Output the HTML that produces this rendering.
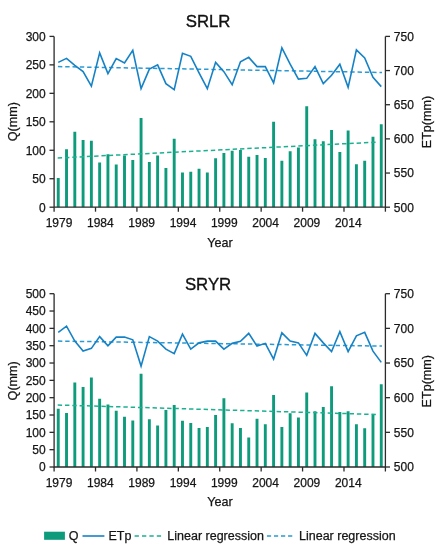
<!DOCTYPE html>
<html><head><meta charset="utf-8"><title>SRLR / SRYR</title>
<style>
html,body{margin:0;padding:0;background:#fff;}
svg{display:block}
.t{font-family:"Liberation Sans",Arial,sans-serif;font-size:12px;fill:#151515;stroke:#151515;stroke-width:0.25px}
.lg{font-size:12.5px}
.at{font-size:12.6px}
.ttl{font-family:"Liberation Sans",Arial,sans-serif;font-size:16.8px;fill:#111;stroke:#111;stroke-width:0.35px}
</style></head><body>
<svg width="443" height="550" viewBox="0 0 443 550">
<rect width="443" height="550" fill="#fff"/>
<rect x="56.79" y="178.00" width="2.9" height="29.20" fill="#0d9b7c"/>
<rect x="65.07" y="149.25" width="2.9" height="57.95" fill="#0d9b7c"/>
<rect x="73.36" y="131.75" width="2.9" height="75.45" fill="#0d9b7c"/>
<rect x="81.64" y="140.00" width="2.9" height="67.20" fill="#0d9b7c"/>
<rect x="89.92" y="140.75" width="2.9" height="66.45" fill="#0d9b7c"/>
<rect x="98.20" y="162.50" width="2.9" height="44.70" fill="#0d9b7c"/>
<rect x="106.49" y="154.25" width="2.9" height="52.95" fill="#0d9b7c"/>
<rect x="114.77" y="164.50" width="2.9" height="42.70" fill="#0d9b7c"/>
<rect x="123.05" y="155.50" width="2.9" height="51.70" fill="#0d9b7c"/>
<rect x="131.33" y="160.00" width="2.9" height="47.20" fill="#0d9b7c"/>
<rect x="139.62" y="118.00" width="2.9" height="89.20" fill="#0d9b7c"/>
<rect x="147.90" y="162.00" width="2.9" height="45.20" fill="#0d9b7c"/>
<rect x="156.18" y="155.50" width="2.9" height="51.70" fill="#0d9b7c"/>
<rect x="164.46" y="168.00" width="2.9" height="39.20" fill="#0d9b7c"/>
<rect x="172.75" y="138.75" width="2.9" height="68.45" fill="#0d9b7c"/>
<rect x="181.03" y="172.50" width="2.9" height="34.70" fill="#0d9b7c"/>
<rect x="189.31" y="171.75" width="2.9" height="35.45" fill="#0d9b7c"/>
<rect x="197.59" y="168.75" width="2.9" height="38.45" fill="#0d9b7c"/>
<rect x="205.88" y="172.50" width="2.9" height="34.70" fill="#0d9b7c"/>
<rect x="214.16" y="158.25" width="2.9" height="48.95" fill="#0d9b7c"/>
<rect x="222.44" y="153.00" width="2.9" height="54.20" fill="#0d9b7c"/>
<rect x="230.72" y="150.75" width="2.9" height="56.45" fill="#0d9b7c"/>
<rect x="239.01" y="150.00" width="2.9" height="57.20" fill="#0d9b7c"/>
<rect x="247.29" y="156.75" width="2.9" height="50.45" fill="#0d9b7c"/>
<rect x="255.57" y="155.00" width="2.9" height="52.20" fill="#0d9b7c"/>
<rect x="263.85" y="158.00" width="2.9" height="49.20" fill="#0d9b7c"/>
<rect x="272.14" y="121.75" width="2.9" height="85.45" fill="#0d9b7c"/>
<rect x="280.42" y="160.75" width="2.9" height="46.45" fill="#0d9b7c"/>
<rect x="288.70" y="151.25" width="2.9" height="55.95" fill="#0d9b7c"/>
<rect x="296.98" y="147.50" width="2.9" height="59.70" fill="#0d9b7c"/>
<rect x="305.27" y="106.25" width="2.9" height="100.95" fill="#0d9b7c"/>
<rect x="313.55" y="139.25" width="2.9" height="67.95" fill="#0d9b7c"/>
<rect x="321.83" y="141.25" width="2.9" height="65.95" fill="#0d9b7c"/>
<rect x="330.11" y="130.00" width="2.9" height="77.20" fill="#0d9b7c"/>
<rect x="338.40" y="152.00" width="2.9" height="55.20" fill="#0d9b7c"/>
<rect x="346.68" y="130.50" width="2.9" height="76.70" fill="#0d9b7c"/>
<rect x="354.96" y="164.25" width="2.9" height="42.95" fill="#0d9b7c"/>
<rect x="363.24" y="160.75" width="2.9" height="46.45" fill="#0d9b7c"/>
<rect x="371.53" y="136.75" width="2.9" height="70.45" fill="#0d9b7c"/>
<rect x="379.81" y="124.25" width="2.9" height="82.95" fill="#0d9b7c"/>
<line x1="57.7" y1="158" x2="376.4" y2="142.15" stroke="#1bb090" stroke-width="1.5" stroke-dasharray="4.4 2.9"/>
<line x1="57.9" y1="66.6" x2="382" y2="72.5" stroke="#2a9ad2" stroke-width="1.5" stroke-dasharray="4.4 2.91"/>
<polyline points="58.24,62.35 66.52,58.35 74.81,65.35 83.09,71.65 91.37,86.15 99.65,52.85 107.94,73.65 116.22,58.65 124.50,62.85 132.78,50.35 141.07,88.65 149.35,69.15 157.63,64.85 165.91,83.65 174.20,89.65 182.48,53.35 190.76,56.35 199.04,72.85 207.33,88.65 215.61,62.35 223.89,71.65 232.17,84.65 240.46,61.85 248.74,57.35 257.02,66.65 265.30,66.65 273.59,82.85 281.87,47.85 290.15,64.15 298.43,79.15 306.72,78.35 315.00,66.65 323.28,83.65 331.56,75.35 339.85,64.15 348.13,87.35 356.41,49.85 364.69,57.85 372.98,77.35 381.26,86.65" fill="none" stroke="#1682c6" stroke-width="1.6" stroke-linejoin="miter" stroke-miterlimit="6"/>
<path d="M54.1 36.4 V207.2 H385.4 V36.4" fill="none" stroke="#2b2b2b" stroke-width="1.3"/>
<line x1="49.5" y1="36.40" x2="54.1" y2="36.40" stroke="#2b2b2b" stroke-width="1.3"/>
<text x="45.7" y="40.80" text-anchor="end" class="t">300</text>
<line x1="49.5" y1="64.87" x2="54.1" y2="64.87" stroke="#2b2b2b" stroke-width="1.3"/>
<text x="45.7" y="69.27" text-anchor="end" class="t">250</text>
<line x1="49.5" y1="93.33" x2="54.1" y2="93.33" stroke="#2b2b2b" stroke-width="1.3"/>
<text x="45.7" y="97.73" text-anchor="end" class="t">200</text>
<line x1="49.5" y1="121.80" x2="54.1" y2="121.80" stroke="#2b2b2b" stroke-width="1.3"/>
<text x="45.7" y="126.20" text-anchor="end" class="t">150</text>
<line x1="49.5" y1="150.27" x2="54.1" y2="150.27" stroke="#2b2b2b" stroke-width="1.3"/>
<text x="45.7" y="154.67" text-anchor="end" class="t">100</text>
<line x1="49.5" y1="178.73" x2="54.1" y2="178.73" stroke="#2b2b2b" stroke-width="1.3"/>
<text x="45.7" y="183.13" text-anchor="end" class="t">50</text>
<line x1="49.5" y1="207.20" x2="54.1" y2="207.20" stroke="#2b2b2b" stroke-width="1.3"/>
<text x="45.7" y="211.60" text-anchor="end" class="t">0</text>
<line x1="385.4" y1="36.40" x2="390" y2="36.40" stroke="#2b2b2b" stroke-width="1.3"/>
<text x="393.8" y="40.80" class="t">750</text>
<line x1="385.4" y1="70.56" x2="390" y2="70.56" stroke="#2b2b2b" stroke-width="1.3"/>
<text x="393.8" y="74.96" class="t">700</text>
<line x1="385.4" y1="104.72" x2="390" y2="104.72" stroke="#2b2b2b" stroke-width="1.3"/>
<text x="393.8" y="109.12" class="t">650</text>
<line x1="385.4" y1="138.88" x2="390" y2="138.88" stroke="#2b2b2b" stroke-width="1.3"/>
<text x="393.8" y="143.28" class="t">600</text>
<line x1="385.4" y1="173.04" x2="390" y2="173.04" stroke="#2b2b2b" stroke-width="1.3"/>
<text x="393.8" y="177.44" class="t">550</text>
<line x1="385.4" y1="207.20" x2="390" y2="207.20" stroke="#2b2b2b" stroke-width="1.3"/>
<text x="393.8" y="211.60" class="t">500</text>
<line x1="54.10" y1="207.2" x2="54.10" y2="211.7" stroke="#2b2b2b" stroke-width="1.3"/>
<text x="59.04" y="227.00" text-anchor="middle" class="t">1979</text>
<line x1="95.51" y1="207.2" x2="95.51" y2="211.7" stroke="#2b2b2b" stroke-width="1.3"/>
<text x="100.35" y="227.00" text-anchor="middle" class="t">1984</text>
<line x1="136.92" y1="207.2" x2="136.92" y2="211.7" stroke="#2b2b2b" stroke-width="1.3"/>
<text x="141.67" y="227.00" text-anchor="middle" class="t">1989</text>
<line x1="178.34" y1="207.2" x2="178.34" y2="211.7" stroke="#2b2b2b" stroke-width="1.3"/>
<text x="182.98" y="227.00" text-anchor="middle" class="t">1994</text>
<line x1="219.75" y1="207.2" x2="219.75" y2="211.7" stroke="#2b2b2b" stroke-width="1.3"/>
<text x="224.29" y="227.00" text-anchor="middle" class="t">1999</text>
<line x1="261.16" y1="207.2" x2="261.16" y2="211.7" stroke="#2b2b2b" stroke-width="1.3"/>
<text x="265.60" y="227.00" text-anchor="middle" class="t">2004</text>
<line x1="302.57" y1="207.2" x2="302.57" y2="211.7" stroke="#2b2b2b" stroke-width="1.3"/>
<text x="306.92" y="227.00" text-anchor="middle" class="t">2009</text>
<line x1="343.99" y1="207.2" x2="343.99" y2="211.7" stroke="#2b2b2b" stroke-width="1.3"/>
<text x="348.23" y="227.00" text-anchor="middle" class="t">2014</text>
<line x1="385.40" y1="207.2" x2="385.40" y2="211.7" stroke="#2b2b2b" stroke-width="1.3"/>
<text x="220.1" y="246.50" text-anchor="middle" class="t at">Year</text>
<text x="208.1" y="27.3" text-anchor="middle" class="ttl">SRLR</text>
<text transform="translate(17.2 121.6) rotate(-90)" text-anchor="middle" class="t at">Q(mm)</text>
<text transform="translate(431 122) rotate(-90)" text-anchor="middle" class="t at">ETp(mm)</text>
<rect x="56.79" y="408.75" width="2.9" height="58.25" fill="#0d9b7c"/>
<rect x="65.07" y="413.00" width="2.9" height="54.00" fill="#0d9b7c"/>
<rect x="73.36" y="382.50" width="2.9" height="84.50" fill="#0d9b7c"/>
<rect x="81.64" y="387.00" width="2.9" height="80.00" fill="#0d9b7c"/>
<rect x="89.92" y="377.50" width="2.9" height="89.50" fill="#0d9b7c"/>
<rect x="98.20" y="398.75" width="2.9" height="68.25" fill="#0d9b7c"/>
<rect x="106.49" y="404.50" width="2.9" height="62.50" fill="#0d9b7c"/>
<rect x="114.77" y="410.75" width="2.9" height="56.25" fill="#0d9b7c"/>
<rect x="123.05" y="416.75" width="2.9" height="50.25" fill="#0d9b7c"/>
<rect x="131.33" y="420.50" width="2.9" height="46.50" fill="#0d9b7c"/>
<rect x="139.62" y="373.75" width="2.9" height="93.25" fill="#0d9b7c"/>
<rect x="147.90" y="419.25" width="2.9" height="47.75" fill="#0d9b7c"/>
<rect x="156.18" y="425.50" width="2.9" height="41.50" fill="#0d9b7c"/>
<rect x="164.46" y="410.00" width="2.9" height="57.00" fill="#0d9b7c"/>
<rect x="172.75" y="405.00" width="2.9" height="62.00" fill="#0d9b7c"/>
<rect x="181.03" y="420.75" width="2.9" height="46.25" fill="#0d9b7c"/>
<rect x="189.31" y="423.00" width="2.9" height="44.00" fill="#0d9b7c"/>
<rect x="197.59" y="428.00" width="2.9" height="39.00" fill="#0d9b7c"/>
<rect x="205.88" y="427.00" width="2.9" height="40.00" fill="#0d9b7c"/>
<rect x="214.16" y="415.00" width="2.9" height="52.00" fill="#0d9b7c"/>
<rect x="222.44" y="398.25" width="2.9" height="68.75" fill="#0d9b7c"/>
<rect x="230.72" y="423.25" width="2.9" height="43.75" fill="#0d9b7c"/>
<rect x="239.01" y="428.00" width="2.9" height="39.00" fill="#0d9b7c"/>
<rect x="247.29" y="437.50" width="2.9" height="29.50" fill="#0d9b7c"/>
<rect x="255.57" y="418.75" width="2.9" height="48.25" fill="#0d9b7c"/>
<rect x="263.85" y="424.25" width="2.9" height="42.75" fill="#0d9b7c"/>
<rect x="272.14" y="395.00" width="2.9" height="72.00" fill="#0d9b7c"/>
<rect x="280.42" y="427.00" width="2.9" height="40.00" fill="#0d9b7c"/>
<rect x="288.70" y="413.25" width="2.9" height="53.75" fill="#0d9b7c"/>
<rect x="296.98" y="417.50" width="2.9" height="49.50" fill="#0d9b7c"/>
<rect x="305.27" y="392.50" width="2.9" height="74.50" fill="#0d9b7c"/>
<rect x="313.55" y="411.25" width="2.9" height="55.75" fill="#0d9b7c"/>
<rect x="321.83" y="407.00" width="2.9" height="60.00" fill="#0d9b7c"/>
<rect x="330.11" y="386.25" width="2.9" height="80.75" fill="#0d9b7c"/>
<rect x="338.40" y="412.00" width="2.9" height="55.00" fill="#0d9b7c"/>
<rect x="346.68" y="411.25" width="2.9" height="55.75" fill="#0d9b7c"/>
<rect x="354.96" y="424.25" width="2.9" height="42.75" fill="#0d9b7c"/>
<rect x="363.24" y="428.25" width="2.9" height="38.75" fill="#0d9b7c"/>
<rect x="371.53" y="414.50" width="2.9" height="52.50" fill="#0d9b7c"/>
<rect x="379.81" y="384.25" width="2.9" height="82.75" fill="#0d9b7c"/>
<line x1="57.7" y1="405" x2="376.4" y2="414.5" stroke="#1bb090" stroke-width="1.5" stroke-dasharray="4.4 2.9"/>
<line x1="57.9" y1="341.1" x2="382" y2="346.1" stroke="#2a9ad2" stroke-width="1.5" stroke-dasharray="4.4 2.91"/>
<polyline points="58.24,332.35 66.52,326.10 74.81,341.10 83.09,351.10 91.37,348.35 99.65,336.60 107.94,345.85 116.22,337.10 124.50,337.10 132.78,339.85 141.07,366.10 149.35,336.60 157.63,341.10 165.91,349.10 174.20,353.60 182.48,334.10 190.76,349.10 199.04,342.85 207.33,341.10 215.61,341.10 223.89,349.10 232.17,343.35 240.46,341.35 248.74,333.35 257.02,346.10 265.30,343.35 273.59,359.10 281.87,332.85 290.15,341.10 298.43,342.85 306.72,355.35 315.00,333.35 323.28,342.85 331.56,351.60 339.85,331.60 348.13,351.60 356.41,335.85 364.69,332.35 372.98,351.10 381.26,362.35" fill="none" stroke="#1682c6" stroke-width="1.6" stroke-linejoin="miter" stroke-miterlimit="6"/>
<path d="M54.1 293.7 V467.0 H385.4 V293.7" fill="none" stroke="#2b2b2b" stroke-width="1.3"/>
<line x1="49.5" y1="293.70" x2="54.1" y2="293.70" stroke="#2b2b2b" stroke-width="1.3"/>
<text x="45.7" y="298.10" text-anchor="end" class="t">500</text>
<line x1="49.5" y1="311.03" x2="54.1" y2="311.03" stroke="#2b2b2b" stroke-width="1.3"/>
<text x="45.7" y="315.43" text-anchor="end" class="t">450</text>
<line x1="49.5" y1="328.36" x2="54.1" y2="328.36" stroke="#2b2b2b" stroke-width="1.3"/>
<text x="45.7" y="332.76" text-anchor="end" class="t">400</text>
<line x1="49.5" y1="345.69" x2="54.1" y2="345.69" stroke="#2b2b2b" stroke-width="1.3"/>
<text x="45.7" y="350.09" text-anchor="end" class="t">350</text>
<line x1="49.5" y1="363.02" x2="54.1" y2="363.02" stroke="#2b2b2b" stroke-width="1.3"/>
<text x="45.7" y="367.42" text-anchor="end" class="t">300</text>
<line x1="49.5" y1="380.35" x2="54.1" y2="380.35" stroke="#2b2b2b" stroke-width="1.3"/>
<text x="45.7" y="384.75" text-anchor="end" class="t">250</text>
<line x1="49.5" y1="397.68" x2="54.1" y2="397.68" stroke="#2b2b2b" stroke-width="1.3"/>
<text x="45.7" y="402.08" text-anchor="end" class="t">200</text>
<line x1="49.5" y1="415.01" x2="54.1" y2="415.01" stroke="#2b2b2b" stroke-width="1.3"/>
<text x="45.7" y="419.41" text-anchor="end" class="t">150</text>
<line x1="49.5" y1="432.34" x2="54.1" y2="432.34" stroke="#2b2b2b" stroke-width="1.3"/>
<text x="45.7" y="436.74" text-anchor="end" class="t">100</text>
<line x1="49.5" y1="449.67" x2="54.1" y2="449.67" stroke="#2b2b2b" stroke-width="1.3"/>
<text x="45.7" y="454.07" text-anchor="end" class="t">50</text>
<line x1="49.5" y1="467.00" x2="54.1" y2="467.00" stroke="#2b2b2b" stroke-width="1.3"/>
<text x="45.7" y="471.40" text-anchor="end" class="t">0</text>
<line x1="385.4" y1="293.70" x2="390" y2="293.70" stroke="#2b2b2b" stroke-width="1.3"/>
<text x="393.8" y="298.10" class="t">750</text>
<line x1="385.4" y1="328.36" x2="390" y2="328.36" stroke="#2b2b2b" stroke-width="1.3"/>
<text x="393.8" y="332.76" class="t">700</text>
<line x1="385.4" y1="363.02" x2="390" y2="363.02" stroke="#2b2b2b" stroke-width="1.3"/>
<text x="393.8" y="367.42" class="t">650</text>
<line x1="385.4" y1="397.68" x2="390" y2="397.68" stroke="#2b2b2b" stroke-width="1.3"/>
<text x="393.8" y="402.08" class="t">600</text>
<line x1="385.4" y1="432.34" x2="390" y2="432.34" stroke="#2b2b2b" stroke-width="1.3"/>
<text x="393.8" y="436.74" class="t">550</text>
<line x1="385.4" y1="467.00" x2="390" y2="467.00" stroke="#2b2b2b" stroke-width="1.3"/>
<text x="393.8" y="471.40" class="t">500</text>
<line x1="54.10" y1="467.0" x2="54.10" y2="471.5" stroke="#2b2b2b" stroke-width="1.3"/>
<text x="59.04" y="486.80" text-anchor="middle" class="t">1979</text>
<line x1="95.51" y1="467.0" x2="95.51" y2="471.5" stroke="#2b2b2b" stroke-width="1.3"/>
<text x="100.35" y="486.80" text-anchor="middle" class="t">1984</text>
<line x1="136.92" y1="467.0" x2="136.92" y2="471.5" stroke="#2b2b2b" stroke-width="1.3"/>
<text x="141.67" y="486.80" text-anchor="middle" class="t">1989</text>
<line x1="178.34" y1="467.0" x2="178.34" y2="471.5" stroke="#2b2b2b" stroke-width="1.3"/>
<text x="182.98" y="486.80" text-anchor="middle" class="t">1994</text>
<line x1="219.75" y1="467.0" x2="219.75" y2="471.5" stroke="#2b2b2b" stroke-width="1.3"/>
<text x="224.29" y="486.80" text-anchor="middle" class="t">1999</text>
<line x1="261.16" y1="467.0" x2="261.16" y2="471.5" stroke="#2b2b2b" stroke-width="1.3"/>
<text x="265.60" y="486.80" text-anchor="middle" class="t">2004</text>
<line x1="302.57" y1="467.0" x2="302.57" y2="471.5" stroke="#2b2b2b" stroke-width="1.3"/>
<text x="306.92" y="486.80" text-anchor="middle" class="t">2009</text>
<line x1="343.99" y1="467.0" x2="343.99" y2="471.5" stroke="#2b2b2b" stroke-width="1.3"/>
<text x="348.23" y="486.80" text-anchor="middle" class="t">2014</text>
<line x1="385.40" y1="467.0" x2="385.40" y2="471.5" stroke="#2b2b2b" stroke-width="1.3"/>
<text x="220.1" y="506.30" text-anchor="middle" class="t at">Year</text>
<text x="208.1" y="289.7" text-anchor="middle" class="ttl">SRYR</text>
<text transform="translate(17.2 380.8) rotate(-90)" text-anchor="middle" class="t at">Q(mm)</text>
<text transform="translate(431 381.2) rotate(-90)" text-anchor="middle" class="t at">ETp(mm)</text>

<rect x="44.1" y="531.7" width="20.8" height="8.1" fill="#0d9b7c"/>
<text x="68.7" y="540.4" class="t lg">Q</text>
<line x1="82.5" y1="536" x2="104.4" y2="536" stroke="#1682c6" stroke-width="1.6"/>
<text x="108.5" y="540.4" class="t lg">ETp</text>
<line x1="134.6" y1="536" x2="161.4" y2="536" stroke="#1bb090" stroke-width="1.5" stroke-dasharray="4.3 3.1"/>
<text x="167.3" y="540.4" class="t lg">Linear regression</text>
<line x1="266.9" y1="536" x2="292.4" y2="536" stroke="#2a9ad2" stroke-width="1.5" stroke-dasharray="4.2 2.85"/>
<text x="299" y="540.4" class="t lg">Linear regression</text>

</svg>
</body></html>
